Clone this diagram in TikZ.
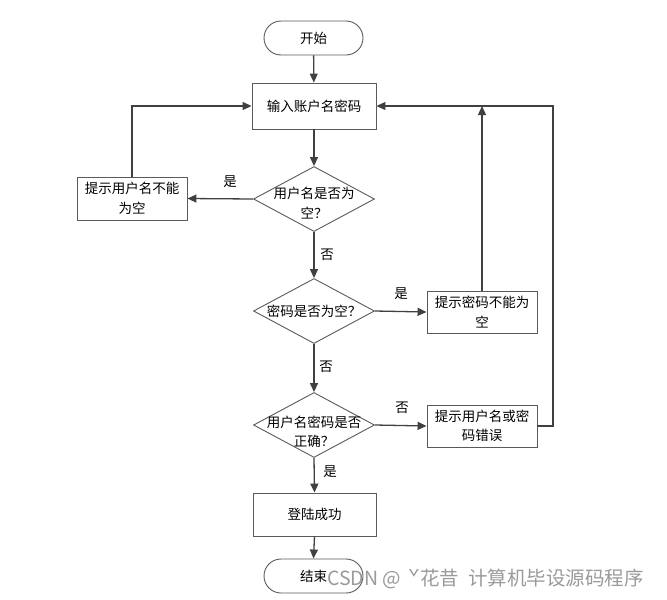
\documentclass[tikz,border=0pt]{standalone}
\usepackage{fontspec}
\setmainfont{Noto Sans CJK SC}
\newfontfamily\cjk{Noto Sans CJK SC}
\usetikzlibrary{shapes.geometric,arrows.meta,positioning}
\definecolor{boxc}{HTML}{5A5A5A}
\definecolor{linec}{HTML}{404040}
\definecolor{wmc}{HTML}{9A9A9A}
\begin{document}
\begin{tikzpicture}[x=1pt,y=-1pt,
  every node/.style={font=\cjk\fontsize{13.5pt}{19.5pt}\selectfont, text=black},
  stepbox/.style={draw=boxc, line width=0.9pt, fill=white, rectangle, align=center, inner sep=0pt},
  term/.style={draw=boxc, line width=0.9pt, fill=white, rectangle, rounded corners=17pt, minimum width=99pt, minimum height=34pt, inner sep=0pt},
  decision/.style={draw=boxc, line width=0.9pt, fill=white, diamond, minimum width=121pt, minimum height=65pt, inner sep=0pt},
  flow/.style={draw=linec, line width=1.3pt, -{Triangle[length=9pt,width=8pt]}},
  lbl/.style={inner sep=0pt}
]
\useasboundingbox (0,0) rectangle (667,600);
% nodes
\node[term] (start) at (313.5,38) {开始};
\node[stepbox, minimum width=124pt, minimum height=46pt] (input) at (314,106) {输入账户名密码};
\node[decision] (d1) at (314,199) {};
\node[lbl, align=center] (d1t) at (314,203) {用户名是否为\\空？};
\node[stepbox, minimum width=110pt, minimum height=43pt] (warn1) at (132,198.5) {提示用户名不能\\为空};
\node[decision] (d2) at (314,311) {};
\node[lbl] (d2t) at (314,311) {密码是否为空？};
\node[stepbox, minimum width=110pt, minimum height=42pt] (warn2) at (482,312) {提示密码不能为\\空};
\node[decision] (d3) at (314,425) {};
\node[lbl, align=center] (d3t) at (314,432) {用户名密码是否\\正确？};
\node[stepbox, minimum width=110pt, minimum height=42pt] (warn3) at (482,426) {提示用户名或密\\码错误};
\node[stepbox, minimum width=123pt, minimum height=43pt] (ok) at (314.5,514.5) {登陆成功};
\node[term] (stop) at (313.5,576) {结束};
\coordinate (merge) at (482,106);
\coordinate (rc1) at (553,426);
\coordinate (rc2) at (553,106);
\coordinate (lc1) at (132,106);
% connectors
\draw[flow] (start) -- (input);
\draw[flow] (input) -- (d1);
\draw[flow] (d1.west) -- (warn1.east);
\draw[flow] (warn1.north) -- (lc1) -- (input.west);
\draw[flow] (d1.south) -- (d2.north);
\draw[flow] (d2.east) -- (warn2.west);
\draw[flow] (warn2.north) -- (merge);
\draw[flow] (d2.south) -- (d3.north);
\draw[flow] (d3.east) -- (warn3.west);
\draw[flow] (warn3.east) -- (rc1) -- (rc2) -- (input.east);
\draw[flow] (d3.south) -- (ok.north);
\draw[flow] (ok.south) -- (stop.north);
% labels
\node[lbl] (l1) at (230,182) {是};
\node[lbl] (l2) at (327,255) {否};
\node[lbl] (l3) at (401,294) {是};
\node[lbl] (l4) at (326,367) {否};
\node[lbl] (l5) at (402,408) {否};
\node[lbl] (l6) at (330,472) {是};
% watermark
\node[lbl, anchor=west, text=wmc, font=\cjk\fontsize{19.5pt}{21pt}\selectfont] (wm) at (327,579) {CSDN @ \,ˇ花昔 \ 计算机毕设源码程序};
\end{tikzpicture}
\end{document}
